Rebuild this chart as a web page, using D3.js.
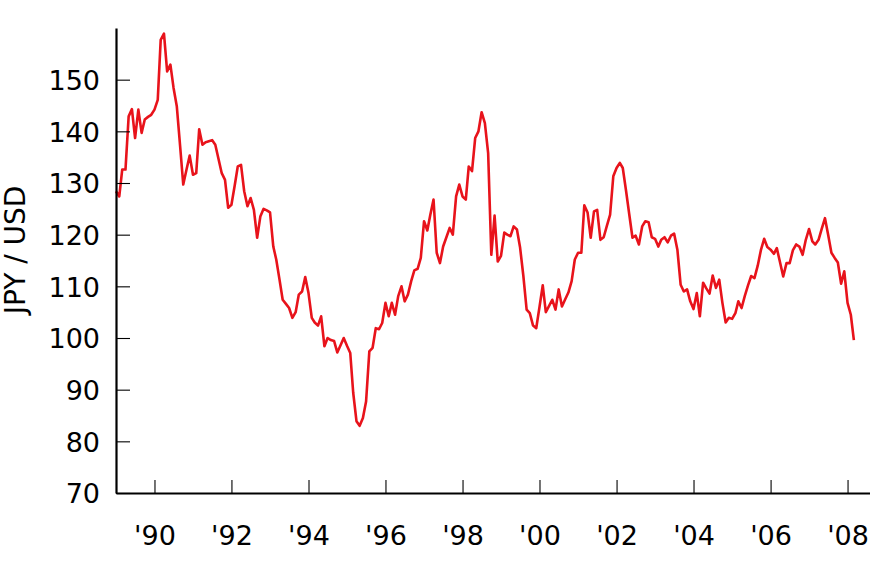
<!DOCTYPE html>
<html>
<head>
<meta charset="utf-8">
<script src="https://cdn.jsdelivr.net/npm/d3@7"></script>
<style>
  body { margin: 0; background: #fff; }
  svg { display: block; font-family: "DejaVu Sans", sans-serif; }
</style>
</head>
<body>
<svg width="870" height="580"></svg>
<script>
// monthly JPY per USD, Jan 1989 .. Mar 2008
const rates = [
  128.4, 127.4, 132.6, 132.6, 142.9, 144.3, 138.7, 144.2, 139.7, 142.3, 142.8, 143.2,
  144.2, 146.1, 157.7, 158.9, 151.6, 152.9, 148.4, 144.8, 137.2, 129.7, 132.6, 135.3,
  131.6, 131.9, 140.4, 137.4, 137.9, 138.1, 138.3, 137.4, 134.6, 131.9, 130.6, 125.2,
  125.8, 129.5, 133.2, 133.5, 128.4, 125.5, 127.1, 124.8, 119.4, 123.5, 125.0, 124.7,
  124.3, 117.7, 115.2, 111.3, 107.4, 106.6, 105.8, 103.9, 105.0, 108.4, 109.0, 111.8,
  108.7, 103.9, 103.0, 102.4, 104.2, 98.4, 100.0, 99.6, 99.4, 97.2, 98.6, 100.0,
  98.5, 97.1, 89.4, 83.9, 83.0, 84.5, 87.7, 97.4, 98.1, 101.9, 101.7, 102.9,
  106.8, 104.2, 106.8, 104.5, 108.1, 110.0, 107.1, 108.4, 111.0, 113.1, 113.4, 115.5,
  122.6, 120.8, 123.8, 126.8, 116.5, 114.5, 117.7, 119.5, 121.3, 120.0, 127.4, 129.7,
  127.4, 126.8, 133.2, 132.3, 138.7, 140.0, 143.7, 141.6, 135.8, 116.1, 123.7, 114.8,
  115.9, 120.4, 120.0, 119.7, 121.6, 121.0, 117.5, 112.0, 105.5, 104.8, 102.4, 101.9,
  106.0, 110.2, 105.0, 106.2, 107.4, 105.5, 109.4, 106.1, 107.5, 108.8, 111.0, 115.2,
  116.5, 116.5, 125.7, 124.3, 119.4, 124.5, 124.8, 119.0, 119.5, 121.7, 123.9, 131.3,
  132.9, 133.9, 132.9, 128.5, 124.0, 119.4, 119.8, 118.1, 121.6, 122.6, 122.4, 119.5,
  119.2, 117.7, 119.0, 119.5, 118.5, 119.8, 120.2, 117.1, 110.3, 109.0, 109.4, 107.1,
  105.6, 108.7, 104.2, 110.7, 109.6, 108.6, 112.1, 109.7, 111.3, 106.8, 103.0, 103.9,
  103.7, 104.8, 107.1, 105.8, 108.1, 110.2, 112.0, 111.6, 114.0, 117.0, 119.2, 117.6,
  117.1, 116.3, 117.4, 114.6, 111.9, 114.5, 114.5, 117.0, 118.1, 117.7, 116.1, 119.0,
  121.1, 118.7, 118.1, 119.0, 121.1, 123.2, 120.0, 116.5, 115.5, 114.6, 110.5, 112.9,
  106.8, 104.5, 99.6
];
const months = d3.timeMonths(new Date(1989, 0, 1), new Date(1989, rates.length, 1));

const yTicks = [70, 80, 90, 100, 110, 120, 130, 140, 150];
const xTickYears = [1990, 1992, 1994, 1996, 1998, 2000, 2002, 2004, 2006, 2008];
const yLabel = "JPY / USD";

const data = months.map((m, i) => ({ date: m, value: rates[i] }));

const svg = d3.select("svg");
const margin = { top: 28, right: 0, bottom: 87, left: 116 };
const width = +svg.attr("width");
const height = +svg.attr("height");

const x = d3.scaleTime()
  .domain([new Date(1989, 0, 1), new Date(2008, 7, 1)])
  .range([margin.left, width - margin.right]);

const y = d3.scaleLinear()
  .domain([70, 160])
  .range([height - margin.bottom, margin.top]);

// line
svg.append("path")
  .datum(data)
  .attr("fill", "none")
  .attr("stroke", "#e8131b")
  .attr("stroke-width", 2.6)
  .attr("stroke-linejoin", "round")
  .attr("d", d3.line().x(d => x(d.date)).y(d => y(d.value)));

let yAxis = d3.axisLeft(y)
  .tickValues(yTicks)
  .tickSize(-14)
  .tickSizeOuter(0)
  .tickPadding(16);

let xAxis = d3.axisBottom(x)
  .tickValues(xTickYears.map(yr => new Date(yr, 0, 1)))
  .tickFormat(d => "'" + String(d.getFullYear()).slice(2))
  .tickSize(-13)
  .tickSizeOuter(0)
  .tickPadding(33);

let gy = svg.append("g")
  .attr("transform", `translate(${margin.left}, 0)`)
  .call(yAxis);

let gx = svg.append("g")
  .attr("transform", `translate(0, ${height - margin.bottom})`)
  .call(xAxis);

[gx, gy].forEach(g => {
  g.select(".domain").attr("stroke", "#000").attr("stroke-width", 2.2);
  g.selectAll(".tick line").attr("stroke", "#000").attr("stroke-width", 1.1);
  g.selectAll(".tick text")
    .attr("fill", "#000")
    .attr("font-family", "DejaVu Sans")
    .attr("font-size", "27px");
});
gy.selectAll(".tick text").attr("dy", "0.36em");

svg.append("text")
  .attr("transform", `translate(25, 250) rotate(-90)`)
  .attr("text-anchor", "middle")
  .attr("font-family", "DejaVu Sans")
  .attr("font-size", "28px")
  .attr("fill", "#000")
  .text(yLabel);
</script>
</body>
</html>
